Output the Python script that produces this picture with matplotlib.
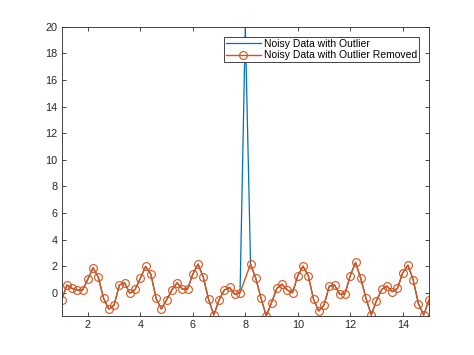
import matplotlib
matplotlib.use('Agg')
import matplotlib.pyplot as plt
import numpy as np

# sample positions (x = 1:0.2:15)
x = [1.0, 1.2, 1.4, 1.6, 1.8, 2.0, 2.2, 2.4, 2.6, 2.8,
     3.0, 3.2, 3.4, 3.6, 3.8, 4.0, 4.2, 4.4, 4.6, 4.8,
     5.0, 5.2, 5.4, 5.6, 5.8, 6.0, 6.2, 6.4, 6.6, 6.8,
     7.0, 7.2, 7.4, 7.6, 7.8, 8.0, 8.2, 8.4, 8.6, 8.8,
     9.0, 9.2, 9.4, 9.6, 9.8, 10.0, 10.2, 10.4, 10.6, 10.8,
     11.0, 11.2, 11.4, 11.6, 11.8, 12.0, 12.2, 12.4, 12.6, 12.8,
     13.0, 13.2, 13.4, 13.6, 13.8, 14.0, 14.2, 14.4, 14.6, 14.8,
     15.0]
# noisy signal, outlier at x = 8
y_noisy = [-0.52, 0.60, 0.35, 0.22, 0.22, 1.05, 1.90, 1.18, -0.40, -1.20,
           -0.90, 0.60, 0.77, -0.02, 0.27, 1.10, 2.00, 1.42, -0.40, -1.20,
           -0.52, 0.22, 0.77, 0.30, 0.30, 1.42, 2.17, 1.18, -0.47, -1.65,
           -0.52, 0.22, 0.42, -0.10, 0.02, 20.0, 2.17, 1.10, -0.40, -1.72,
           -0.72, 0.35, 0.67, 0.22, 0.02, 1.30, 2.02, 1.30, -0.47, -1.35,
           -0.90, 0.52, 0.60, -0.10, -0.05, 1.30, 2.30, 1.10, -0.40, -1.65,
           -0.57, 0.27, 0.52, 0.10, 0.35, 1.52, 2.10, 0.97, -0.82, -1.65,
           -0.52]
outlier_x = 8.0

x_clean = [a for a in x if a != outlier_x]
y_clean = [b for a, b in zip(x, y_noisy) if a != outlier_x]

blue = '#0072BD'
orange = '#D95319'
axc = '#262626'

plt.rcParams['font.family'] = ['Liberation Sans', 'DejaVu Sans']
plt.rcParams['font.size'] = 7.8

fig = plt.figure(figsize=(4.74, 3.55), dpi=100)
ax = fig.add_axes([0.13, 0.11, 0.775, 0.815])
ax.plot(x, y_noisy, color=blue, lw=0.9, label='Noisy Data with Outlier')
ax.plot(x_clean, y_clean, color=orange, lw=1.0, marker='o', ms=5.6,
        mfc='none', mew=0.8, label='Noisy Data with Outlier Removed')

ax.set_xlim(1, 15)
ax.set_ylim(min(y_noisy), max(y_noisy))
ax.set_xticks(np.arange(2, 15, 2))
ax.set_yticks(np.arange(0, 21, 2))
ax.tick_params(direction='in', length=2.6, width=0.6, colors=axc,
               top=True, right=True, labelsize=7.8, pad=3)
for s in ax.spines.values():
    s.set_color(axc)
    s.set_linewidth(0.6)

leg = ax.legend(loc='upper right', bbox_to_anchor=(0.973, 0.964),
                borderaxespad=0, fancybox=False, framealpha=1,
                edgecolor=axc, handlelength=3.3, handletextpad=0.3,
                borderpad=0.2, labelspacing=0.1, fontsize=7.5)
leg.get_frame().set_linewidth(0.6)

fig.savefig('out.png', dpi=100)
